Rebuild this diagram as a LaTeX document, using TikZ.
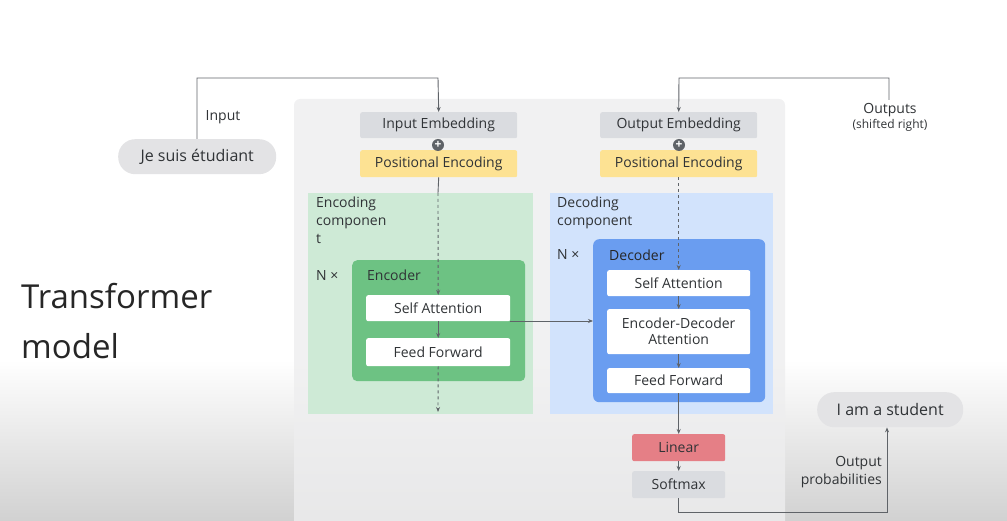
\documentclass[tikz,border=0pt]{standalone}
\usepackage{fontspec}
\setmainfont{Open Sans}
\usetikzlibrary{arrows.meta}
\definecolor{panel}{HTML}{EEEEEF}
\definecolor{emb}{HTML}{DADCE0}
\definecolor{pos}{HTML}{FDE293}
\definecolor{encbg}{HTML}{CEEAD6}
\definecolor{encbox}{HTML}{6DC283}
\definecolor{decbg}{HTML}{D2E3FC}
\definecolor{decbox}{HTML}{6A9DF0}
\definecolor{lin}{HTML}{E57F86}
\definecolor{pill}{HTML}{E3E3E5}
\definecolor{txt}{HTML}{303336}
\definecolor{ln}{HTML}{5F6368}
\tikzset{
 x=1pt,y=-1pt,
 lbl/.style={font=\fontsize{14}{18}\selectfont,text=txt},
 box/.style={lbl,rounded corners=2pt,anchor=north west,inner sep=0pt,align=center},
 wbox/.style={box,fill=white},
 pillst/.style={lbl,fill=pill,rounded corners=17pt,anchor=north west,inner sep=0pt,font=\fontsize{16}{18}\selectfont},
 con/.style={draw=ln,line width=0.9pt},
 arr/.style={con,-{Stealth[length=5pt,width=4pt]}},
}
\begin{document}
\begin{tikzpicture}
\useasboundingbox (0,0) rectangle (1007,521);
\shade[top color=white,bottom color=black!18] (0,360) rectangle (1007,521);
\fill[panel,rounded corners=6pt,opacity=0.8] (294,99) rectangle (785,530);
% encoder side
\node[box,fill=emb,minimum width=157,minimum height=26] (ie) at (360,112) {Input Embedding};
\node[box,fill=pos,minimum width=157,minimum height=27] (pe) at (360,150) {Positional Encoding};
\node[circle,fill=ln,minimum size=12,inner sep=0pt,text=white,font=\bfseries\fontsize{12}{12}\selectfont] (p1) at (438,145) {+};
\fill[encbg] (308,193) rectangle (533,414);
\node[anchor=north west,lbl,align=left,inner sep=0pt,text=txt] (enct) at (316,197) {Encoding\\componen\\t};
\node[anchor=west,lbl,inner sep=0pt] (n1) at (316,276) {N ×};
\node[box,fill=encbox,minimum width=173,minimum height=121,rounded corners=5pt] (enc) at (352,260) {};
\node[anchor=west,lbl,inner sep=0pt] (enl) at (367,275) {Encoder};
\node[wbox,minimum width=144,minimum height=26] (esa) at (366,295) {Self Attention};
\node[wbox,minimum width=144,minimum height=28] (eff) at (366,338) {Feed Forward};
\coordinate (eo) at (438,412);
\draw[con] (pe.south) -- (438,193);
\draw[arr,dashed] (438,193) -- (esa.north);
\draw[arr] (esa.south) -- (eff.north);
\draw[arr,dashed] (eff.south) -- (eo);
% decoder side
\node[box,fill=emb,minimum width=157,minimum height=26] (oe) at (600,112) {Output Embedding};
\node[box,fill=pos,minimum width=157,minimum height=27] (pd) at (600,150) {Positional Encoding};
\node[circle,fill=ln,minimum size=12,inner sep=0pt,text=white,font=\bfseries\fontsize{12}{12}\selectfont] (p2) at (679,145) {+};
\fill[decbg] (550,193) rectangle (773,414);
\node[anchor=north west,lbl,align=left,inner sep=0pt] (dect) at (557,197) {Decoding\\component};
\node[anchor=west,lbl,inner sep=0pt] (n2) at (557,255) {N ×};
\node[box,fill=decbox,minimum width=172,minimum height=163,rounded corners=6pt] (dec) at (593,239) {};
\node[anchor=west,lbl,inner sep=0pt,text=black!85] (dl) at (609,255) {Decoder};
\node[wbox,minimum width=143,minimum height=26] (dsa) at (607,270) {Self Attention};
\node[wbox,minimum width=143,minimum height=45,font=\fontsize{14}{16}\selectfont] (eda) at (607,309) {Encoder-Decoder\\Attention};
\node[wbox,minimum width=143,minimum height=25] (dff) at (607,368) {Feed Forward};
\node[box,fill=lin,minimum width=93,minimum height=27] (li) at (632,434) {Linear};
\node[box,fill=emb,minimum width=93,minimum height=27] (sm) at (632,471) {Softmax};
\draw[arr,dashed] (pd.south) -- (dsa.north);
\draw[arr] (dsa.south) -- (eda.north);
\draw[arr] (eda.south) -- (dff.north);
\draw[arr] (dff.south) -- (li.north);
\draw[arr] (li.south) -- (sm.north);
\draw[arr] (esa.east |- 0,321) -- (dec.west |- 0,321);
% pills and outer connectors
\node[pillst,minimum width=158,minimum height=35] (je) at (118,139) {Je suis étudiant};
\node[pillst,minimum width=146,minimum height=35] (st) at (817,392) {I am a student};
\node[lbl,anchor=center] (inl) at (223,117) {Input};
\node[lbl,align=center,anchor=north,inner sep=0pt] (outl) at (890,103) {Outputs\\[-3pt]{\fontsize{12}{14}\selectfont (shifted right)}};
\node[lbl,align=right,anchor=north east,inner sep=0pt] (opl) at (882,456) {Output\\probabilities};
\draw[arr] (je.north -| 197,0) |- (438,78) -- (ie.north);
\draw[arr] (889,100) |- (679,78) -- (oe.north);
\draw[arr] (sm.south) |- (887,512) -- (st.south -| 887,0);
\node[anchor=west,inner sep=0pt,align=left,font=\fontsize{33}{50}\selectfont,text=black!85] (tm) at (21,321) {Transformer\\model};
\end{tikzpicture}
\end{document}
